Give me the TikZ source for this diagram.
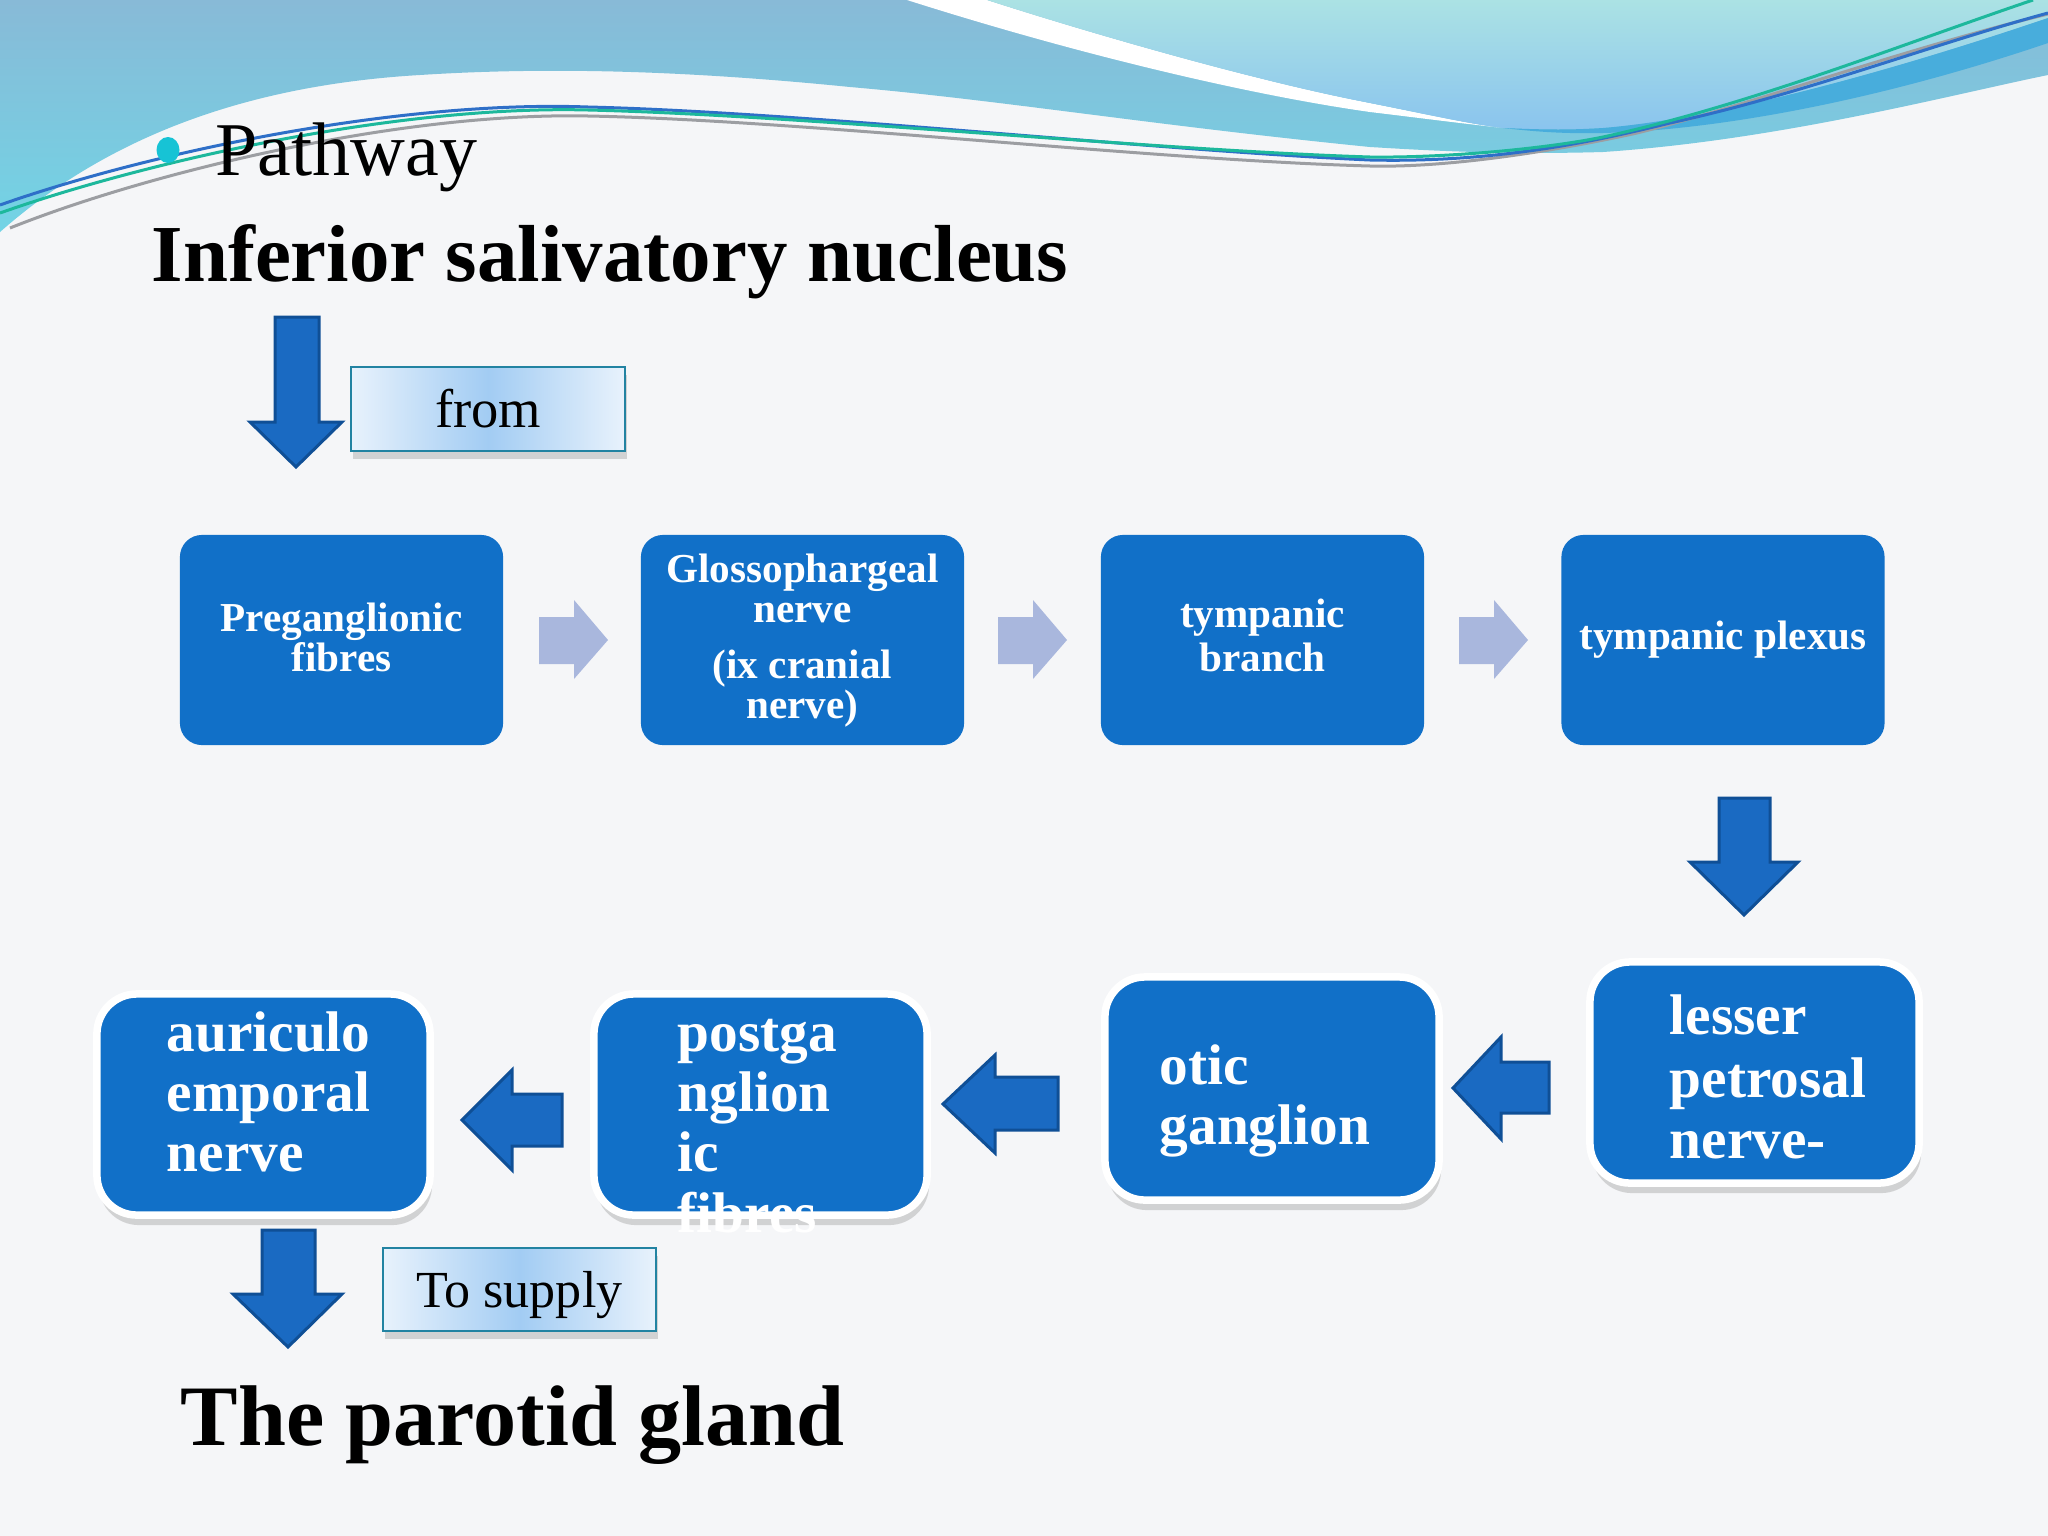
\documentclass[tikz,border=0pt]{standalone}
\usepackage{fontspec}
\setmainfont{Liberation Serif}
\usetikzlibrary{shadows}
\definecolor{bgcol}{HTML}{F5F6F8}
\definecolor{boxblue}{HTML}{1170C8}
\definecolor{wavetop}{HTML}{88BAD7}
\definecolor{wavebot}{HTML}{72D4E5}
\definecolor{lighttop}{HTML}{ABE2E4}
\definecolor{lightbot}{HTML}{8AC4EE}
\definecolor{darkband}{HTML}{48ADDC}
\definecolor{linegreen}{HTML}{1DB89C}
\definecolor{lineblue}{HTML}{2E6FC8}
\definecolor{linegray}{HTML}{9C9EA2}
\definecolor{bullet}{HTML}{17C3D5}
\definecolor{paleArrow}{HTML}{A9B7DD}
\definecolor{arrowfill}{HTML}{1A6AC2}
\definecolor{arrowline}{HTML}{0F4F96}
\definecolor{labin}{HTML}{A2CCF3}
\definecolor{labout}{HTML}{E8F2FC}
\definecolor{labline}{HTML}{2283A2}
\tikzset{
  rowone/.style={fill=boxblue, draw=none, rounded corners=0.22cm, inner sep=0pt,
    minimum width=3.23cm, minimum height=2.1cm},
  rowtwo/.style={fill=boxblue, draw=white, line width=0.075cm, rounded corners=0.4cm,
    inner sep=0pt, drop shadow={shadow xshift=0.02cm, shadow yshift=-0.1cm, opacity=0.3}},
  labelbox/.style={left color=labout, right color=labout, middle color=labin, draw=labline,
    line width=0.025cm, inner sep=0pt,
    drop shadow={shadow xshift=0.02cm, shadow yshift=-0.08cm, opacity=0.3}},
  onetext/.style={text=white, inner sep=0pt, anchor=base,
    font=\bfseries\fontsize{11.7}{12}\selectfont},
  twotext/.style={text=white, inner sep=0pt, anchor=base west,
    font=\bfseries\fontsize{16.3}{17}\selectfont},
  labtext/.style={text=black, inner sep=0pt, anchor=base},
  darrow/.style={fill=arrowfill, draw=arrowline, line width=0.03cm, line join=miter},
  larrow/.style={fill=paleArrow, draw=none},
  thinline/.style={line width=0.03cm}
}
\begin{document}
\begin{tikzpicture}[x=0.01cm,y=-0.01cm]
\useasboundingbox (0,0) rectangle (2048,1536);
\fill[bgcol] (0,0) rectangle (2048,1536);
% background waves
\shade[top color=wavetop, bottom color=wavebot]
  (0,0) -- (2048,0) -- (2048,75)
  .. controls (1950,95) and (1780,140) .. (1603,152)
  .. controls (1500,155) and (1420,150) .. (1370,147)
  .. controls (1150,125) and (1000,100) .. (850,87)
  .. controls (700,72) and (560,66) .. (420,75)
  .. controls (250,85) and (110,135) .. (0,232) -- cycle;
\fill[white] (907,0) -- (987,0)
  .. controls (1080,30) and (1250,80) .. (1370,103)
  .. controls (1430,115) and (1470,124) .. (1503,128)
  .. controls (1450,122) and (1420,118) .. (1370,112)
  .. controls (1250,95) and (1080,55) .. (907,0) -- cycle;
\shade[top color=lighttop, bottom color=lightbot]
  (987,0) .. controls (1080,30) and (1250,80) .. (1370,103)
  .. controls (1430,115) and (1470,124) .. (1503,128)
  .. controls (1550,130) and (1570,130) .. (1603,128)
  .. controls (1700,120) and (1850,85) .. (2048,18) -- (2048,0) -- cycle;
\fill[darkband] (1503,128) .. controls (1550,130) and (1570,130) .. (1603,128)
  .. controls (1700,120) and (1850,85) .. (2048,18)
  -- (2048,43) .. controls (1880,100) and (1720,130) .. (1603,133)
  .. controls (1560,134) and (1530,131) .. (1503,128) -- cycle;
\draw[thinline, linegray] (10,228) .. controls (150,172) and (400,112) .. (588,116)
  .. controls (800,120) and (1150,160) .. (1370,166)
  .. controls (1450,168) and (1560,150) .. (1637,133)
  .. controls (1750,105) and (1900,50) .. (2048,14);
\draw[thinline, lineblue] (0,205) .. controls (150,152) and (400,100) .. (588,107)
  .. controls (800,112) and (1150,150) .. (1370,160)
  .. controls (1500,163) and (1600,140) .. (1670,123)
  .. controls (1800,95) and (1930,45) .. (2048,13);
\draw[thinline, linegreen] (0,213) .. controls (150,160) and (400,105) .. (588,110)
  .. controls (800,115) and (1150,150) .. (1370,157)
  .. controls (1450,158) and (1550,148) .. (1603,137)
  .. controls (1750,105) and (1900,45) .. (2033,0);
% titles
\fill[bullet] (168,150) ellipse [x radius=11.5, y radius=13];
\node[inner sep=0pt, anchor=base west, font=\fontsize{21.6}{22}\selectfont] (pathway) at (215,175) {Pathway};
\node[inner sep=0pt, anchor=base west, font=\bfseries\fontsize{23}{24}\selectfont] (nucleus) at (151,281) {Inferior salivatory nucleus};
% from label
\draw[darrow] (275,317) -- (319,317) -- (319,422) -- (342,422) -- (296,467) -- (250,422) -- (275,422) -- cycle;
\node[labelbox, minimum width=2.74cm, minimum height=0.84cm] (frombox) at (488,409) {};
\node[labtext, font=\fontsize{15.5}{16}\selectfont] (fromtext) at (488,427) {from};
% row one
\node[rowone] (b1) at (341.5,640) {};
\node[rowone] (b2) at (802.5,640) {};
\node[rowone] (b3) at (1262.5,640) {};
\node[rowone] (b4) at (1723,640) {};
\node[onetext] (t1a) at (341.5,631) {Preganglionic};
\node[onetext] (t1b) at (341.5,671) {fibres};
\node[onetext] (t2a) at (802.5,582) {Glossophargeal};
\node[onetext] (t2b) at (802.5,622) {nerve};
\node[onetext] (t2c) at (802.5,678) {(ix cranial};
\node[onetext] (t2d) at (802.5,718) {nerve)};
\node[onetext] (t3a) at (1262.5,627) {tympanic};
\node[onetext] (t3b) at (1262.5,671) {branch};
\node[onetext] (t4a) at (1723,649) {tympanic plexus};
\fill[larrow] (539,617) -- (574,617) -- (574,600) -- (608,640) -- (574,679) -- (574,664) -- (539,664) -- cycle;
\fill[larrow] (998,617) -- (1033,617) -- (1033,600) -- (1067,640) -- (1033,679) -- (1033,664) -- (998,664) -- cycle;
\fill[larrow] (1459,617) -- (1494,617) -- (1494,600) -- (1528,640) -- (1494,679) -- (1494,664) -- (1459,664) -- cycle;
% down arrow right
\draw[darrow] (1719,798) -- (1770,798) -- (1770,862) -- (1798,862) -- (1744,915) -- (1690,862) -- (1719,862) -- cycle;
% row two
\node[rowtwo, minimum width=3.29cm, minimum height=2.21cm] (b5) at (1754.5,1072.5) {};
\node[rowtwo, minimum width=3.34cm, minimum height=2.23cm] (b6) at (1272,1088.5) {};
\node[rowtwo, minimum width=3.33cm, minimum height=2.21cm] (b7) at (760.5,1104.5) {};
\node[rowtwo, minimum width=3.33cm, minimum height=2.21cm] (b8) at (263.5,1104.5) {};
\node[twotext] (t5a) at (1669,1034) {lesser};
\node[twotext] (t5b) at (1669,1097) {petrosal};
\node[twotext] (t5c) at (1669,1158) {nerve-};
\node[twotext] (t6a) at (1159,1084) {otic};
\node[twotext] (t6b) at (1159,1144) {ganglion};
\node[twotext] (t7a) at (677,1051) {postga};
\node[twotext] (t7b) at (677,1111) {nglion};
\node[twotext] (t7c) at (677,1171) {ic};
\node[twotext] (t7d) at (677,1232) {fibres};
\node[twotext] (t8a) at (166,1051) {auriculo};
\node[twotext] (t8b) at (166,1111) {emporal};
\node[twotext] (t8c) at (166,1171) {nerve};
% left arrows
\draw[darrow] (1453,1088) -- (1501,1037) -- (1501,1062) -- (1549,1062) -- (1549,1113) -- (1501,1113) -- (1501,1139) -- cycle;
\draw[darrow] (943,1104) -- (995,1055) -- (995,1077) -- (1058,1077) -- (1058,1130) -- (995,1130) -- (995,1153) -- cycle;
\draw[darrow] (462,1120) -- (512,1070) -- (512,1094) -- (562,1094) -- (562,1146) -- (512,1146) -- (512,1170) -- cycle;
% bottom
\draw[darrow] (262,1230) -- (315,1230) -- (315,1294) -- (342,1294) -- (288,1347) -- (233,1294) -- (262,1294) -- cycle;
\node[labelbox, minimum width=2.73cm, minimum height=0.83cm] (supplybox) at (519.5,1289.5) {};
\node[labtext, font=\fontsize{14.8}{15}\selectfont] (supplytext) at (519.5,1307) {To supply};
\node[inner sep=0pt, anchor=base west, font=\bfseries\fontsize{24.5}{25}\selectfont] (gland) at (180,1445) {The parotid gland};
\end{tikzpicture}
\end{document}
